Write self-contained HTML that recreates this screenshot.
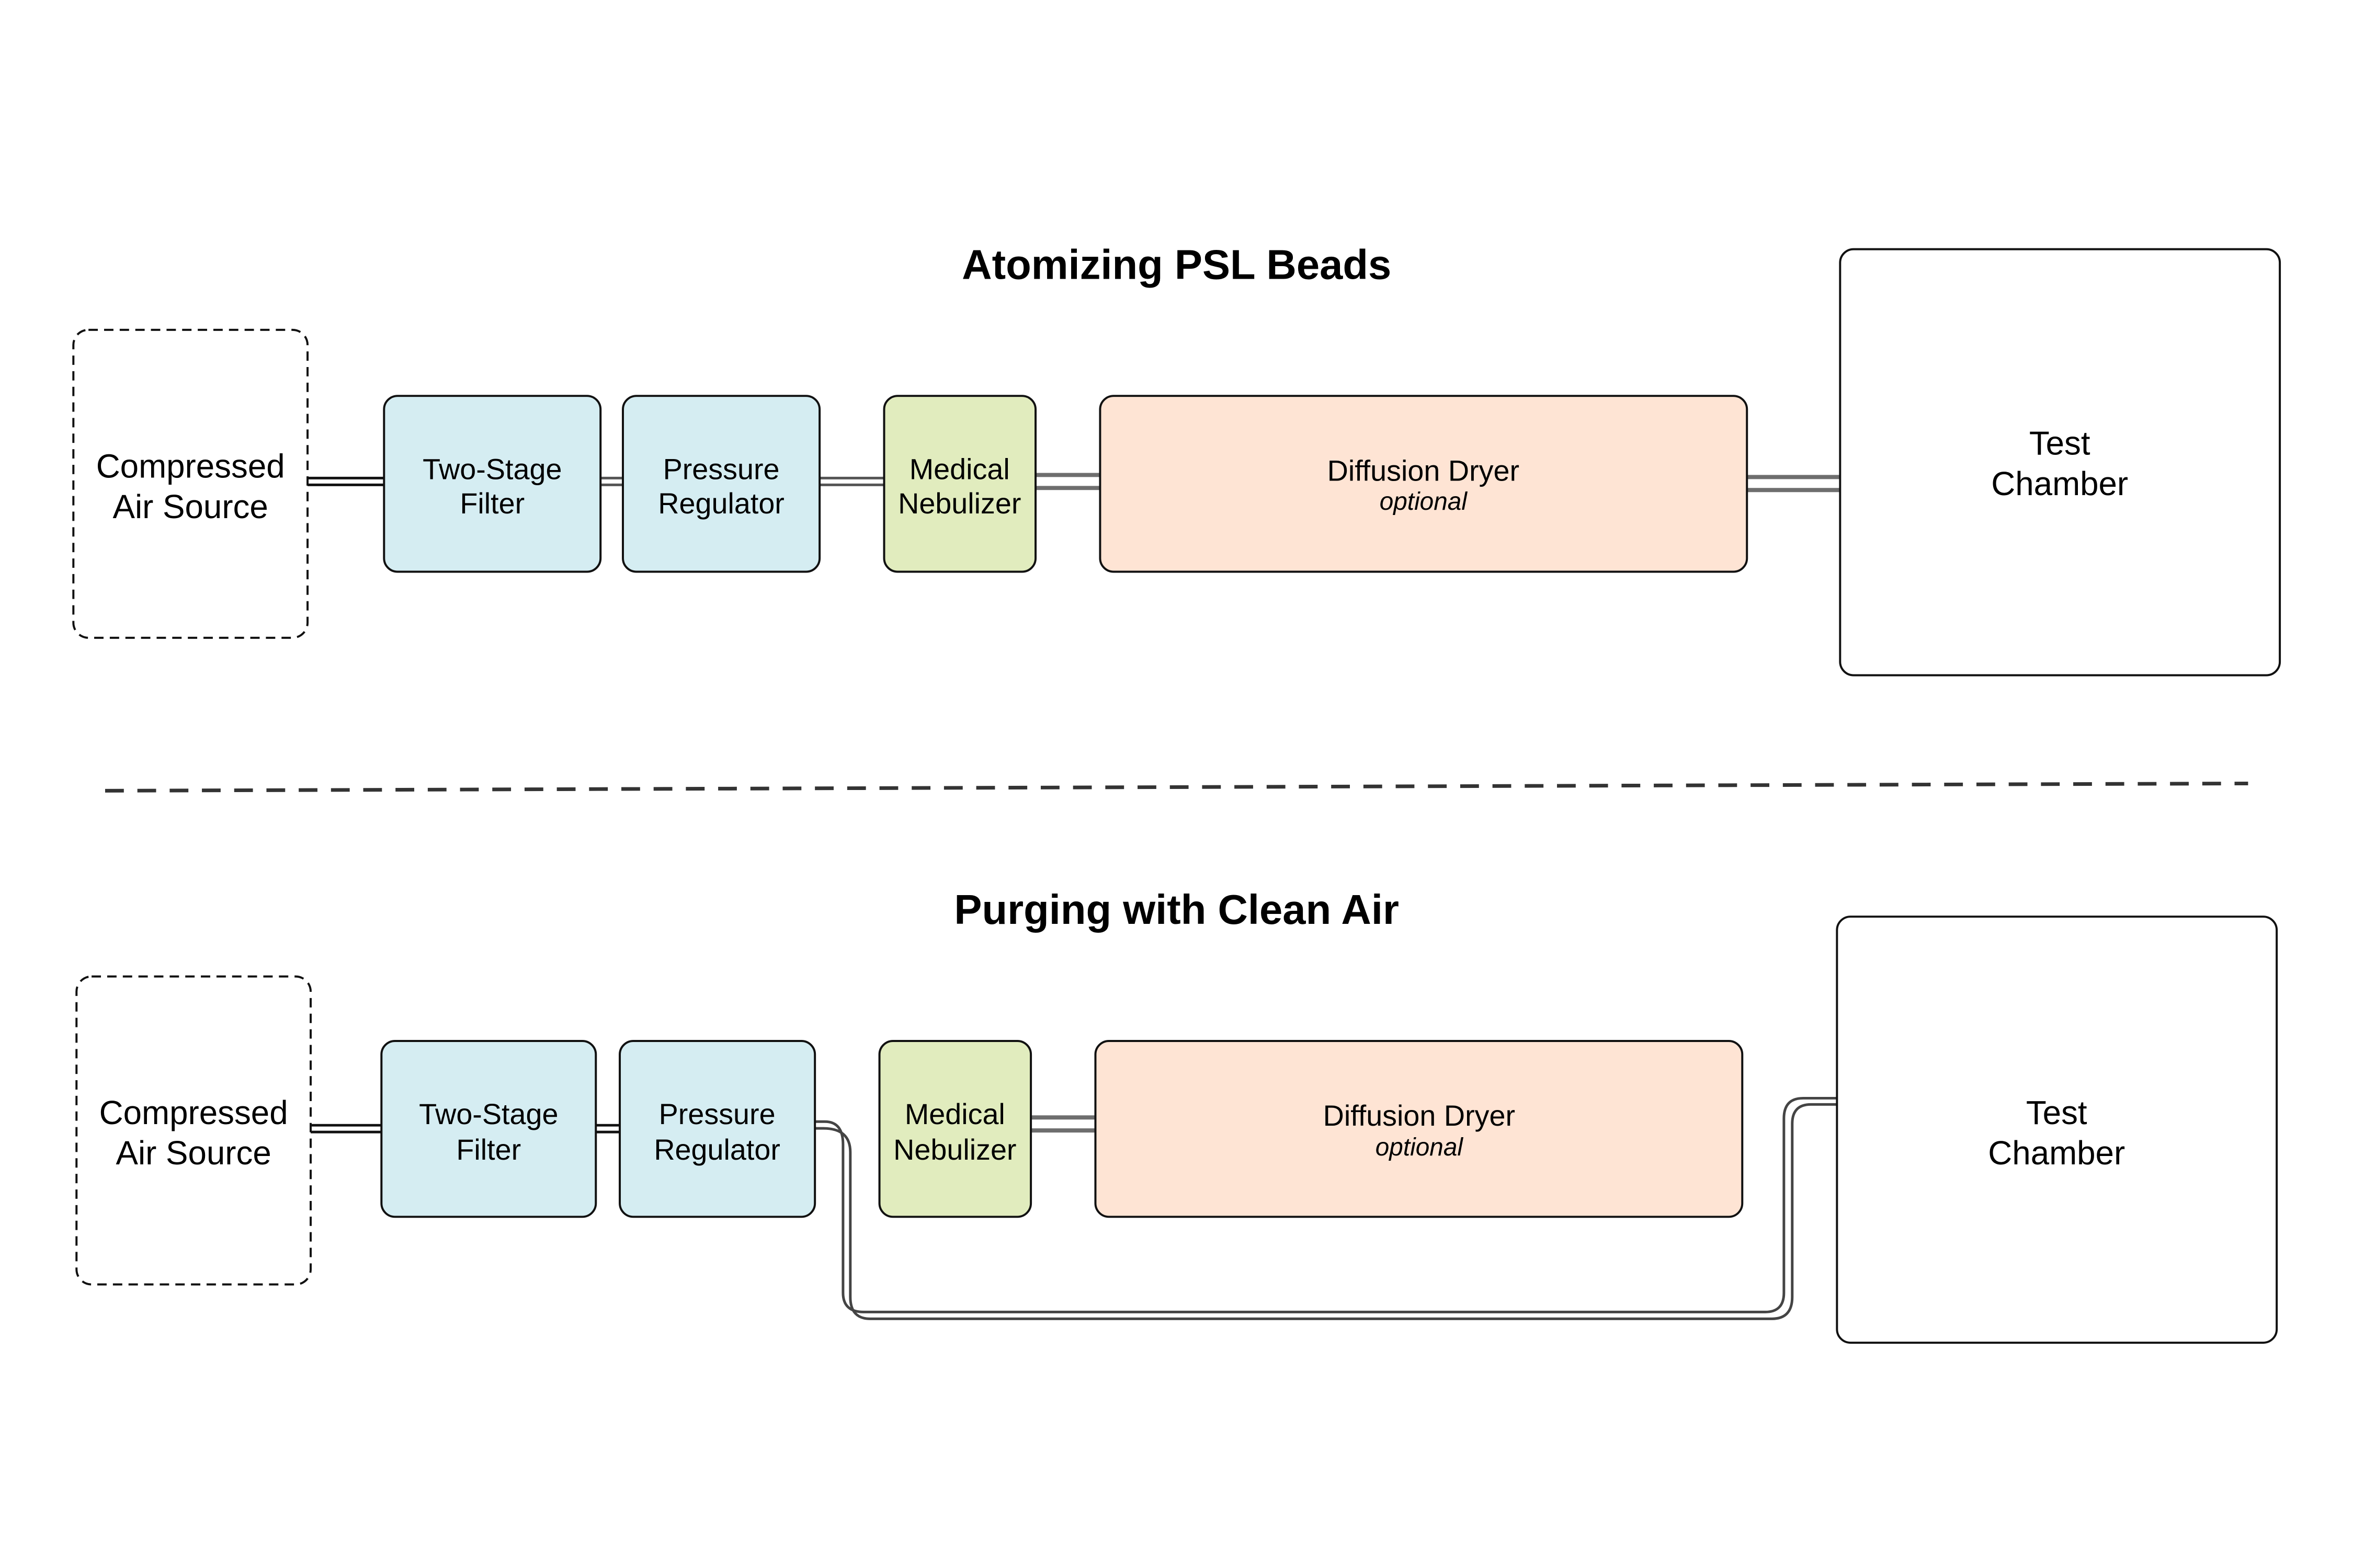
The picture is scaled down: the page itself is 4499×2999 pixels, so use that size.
<!DOCTYPE html>
<html><head><meta charset="utf-8"><style>
html,body{margin:0;padding:0;background:#fff;}
svg{display:block;}
text{font-family:"Liberation Sans",Arial,sans-serif;fill:#000;}
</style></head><body>
<svg width="4499" height="2999" viewBox="0 0 4499 2999" xmlns="http://www.w3.org/2000/svg">
<rect width="4499" height="2999" fill="#fff"/>
<g transform="scale(0.995)">
<g transform="translate(0,4)">
<text x="2261" y="532" font-size="80" font-weight="bold" text-anchor="middle">Atomizing PSL Beads</text>
<text x="2261" y="1772" font-size="80" font-weight="bold" text-anchor="middle">Purging with Clean Air</text>
</g>
<line x1="202" y1="1520" x2="4320" y2="1506" stroke="#333" stroke-width="7" stroke-dasharray="36,26"/>

<g stroke-width="5">
<line x1="591" y1="919" x2="738" y2="919" stroke="#111"/>
<line x1="591" y1="932" x2="738" y2="932" stroke="#111"/>
<line x1="1154" y1="919" x2="1197" y2="919" stroke="#555"/>
<line x1="1154" y1="932" x2="1197" y2="932" stroke="#555"/>
<line x1="1575" y1="919" x2="1699" y2="919" stroke="#555"/>
<line x1="1575" y1="932" x2="1699" y2="932" stroke="#555"/>
</g>
<g stroke="#6e6e6e" stroke-width="8">
<line x1="1990" y1="913" x2="2114" y2="913"/>
<line x1="1990" y1="938" x2="2114" y2="938"/>
<line x1="3357" y1="917" x2="3536" y2="917"/>
<line x1="3357" y1="942" x2="3536" y2="942"/>
</g>

<rect x="141" y="634" width="450" height="592" rx="29" fill="#fff" stroke="#111" stroke-width="4" stroke-dasharray="18,12"/>
<rect x="738" y="761" width="416" height="338" rx="26" fill="#d5edf2" stroke="#111" stroke-width="4"/>
<rect x="1197" y="761" width="378" height="338" rx="26" fill="#d5edf2" stroke="#111" stroke-width="4"/>
<rect x="1699" y="761" width="291" height="338" rx="26" fill="#e1ecbe" stroke="#111" stroke-width="4"/>
<rect x="2114" y="761" width="1243" height="338" rx="26" fill="#fee4d4" stroke="#111" stroke-width="4"/>
<rect x="3536" y="479" width="845" height="819" rx="26" fill="#fff" stroke="#111" stroke-width="4"/>

<g transform="translate(0,4)">
<g font-size="64" text-anchor="middle">
<text x="366" y="914">Compressed</text><text x="366" y="992">Air Source</text>
<text x="3958" y="870">Test</text><text x="3958" y="948">Chamber</text>
</g>
<g font-size="56" text-anchor="middle">
<text x="946" y="917">Two-Stage</text><text x="946" y="983">Filter</text>
<text x="1386" y="917">Pressure</text><text x="1386" y="983">Regulator</text>
<text x="1844" y="917">Medical</text><text x="1844" y="983">Nebulizer</text>
<text x="2735" y="920">Diffusion Dryer</text>
<text x="2735" y="976" font-size="48" font-style="italic">optional</text>
</g>
</g>

<g stroke-width="5">
<line x1="597" y1="2163" x2="733" y2="2163" stroke="#111"/>
<line x1="597" y1="2176" x2="733" y2="2176" stroke="#111"/>
<line x1="1145" y1="2163" x2="1191" y2="2163" stroke="#111"/>
<line x1="1145" y1="2176" x2="1191" y2="2176" stroke="#111"/>
</g>
<g stroke="#6e6e6e" stroke-width="8">
<line x1="1981" y1="2148" x2="2105" y2="2148"/>
<line x1="1981" y1="2173" x2="2105" y2="2173"/>
</g>
<g fill="none" stroke="#444" stroke-width="5">
<path d="M1566 2156 L1585 2156 Q1620 2156 1620 2200 L1620 2485 Q1620 2522 1660 2522 L3392 2522 Q3428 2522 3428 2485 L3428 2150 Q3428 2111 3465 2111 L3530 2111"/>
<path d="M1566 2169 L1582 2169 Q1634 2169 1634 2215 L1634 2493 Q1634 2535 1672 2535 L3405 2535 Q3444 2535 3444 2493 L3444 2160 Q3444 2123 3480 2123 L3530 2123"/>
</g>

<rect x="147" y="1877" width="450" height="592" rx="29" fill="#fff" stroke="#111" stroke-width="4" stroke-dasharray="18,12"/>
<rect x="733" y="2001" width="412" height="338" rx="26" fill="#d5edf2" stroke="#111" stroke-width="4"/>
<rect x="1191" y="2001" width="375" height="338" rx="26" fill="#d5edf2" stroke="#111" stroke-width="4"/>
<rect x="1690" y="2001" width="291" height="338" rx="26" fill="#e1ecbe" stroke="#111" stroke-width="4"/>
<rect x="2105" y="2001" width="1243" height="338" rx="26" fill="#fee4d4" stroke="#111" stroke-width="4"/>
<rect x="3530" y="1762" width="845" height="819" rx="26" fill="#fff" stroke="#111" stroke-width="4"/>

<g transform="translate(0,4)">
<g font-size="64" text-anchor="middle">
<text x="372" y="2157">Compressed</text><text x="372" y="2234">Air Source</text>
<text x="3952" y="2157">Test</text><text x="3952" y="2234">Chamber</text>
</g>
<g font-size="56" text-anchor="middle">
<text x="939" y="2157">Two-Stage</text><text x="939" y="2225">Filter</text>
<text x="1378" y="2157">Pressure</text><text x="1378" y="2225">Regulator</text>
<text x="1835" y="2157">Medical</text><text x="1835" y="2225">Nebulizer</text>
<text x="2727" y="2160">Diffusion Dryer</text>
<text x="2727" y="2217" font-size="48" font-style="italic">optional</text>
</g>
</g>
</g>
</svg>
</body></html>
